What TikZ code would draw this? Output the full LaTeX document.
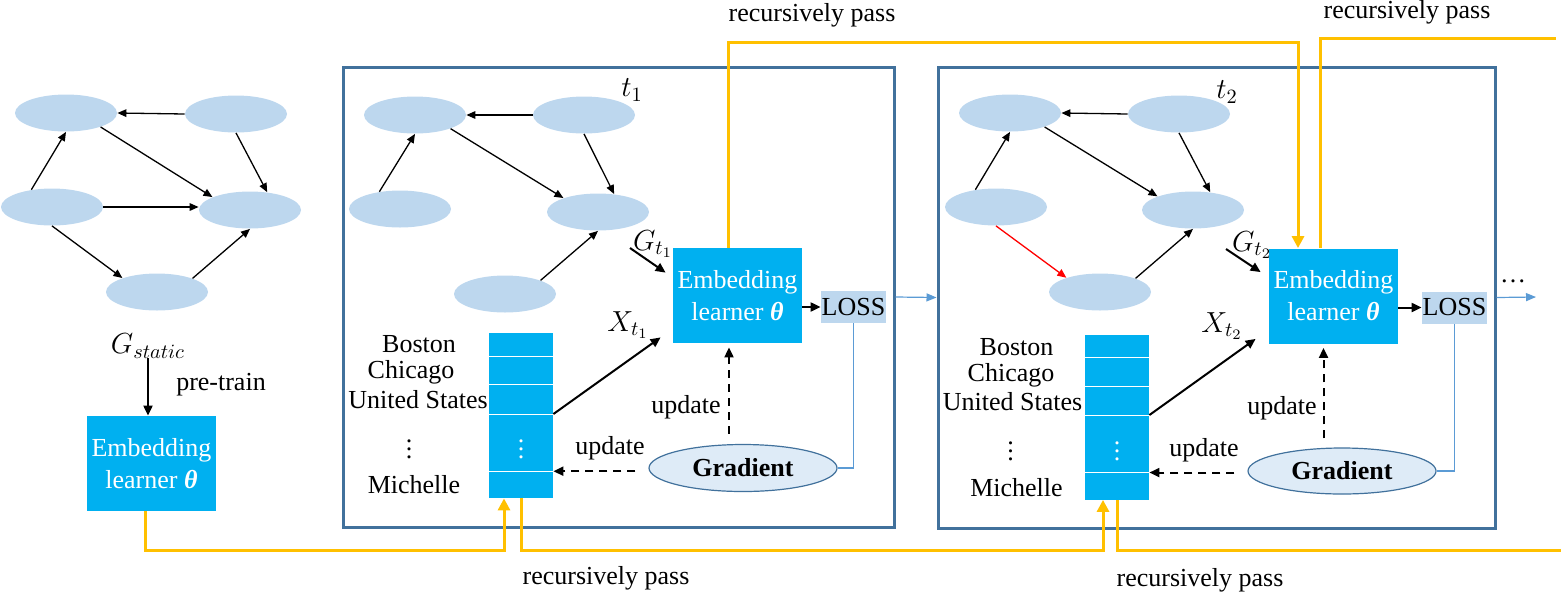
\RequirePackage{fix-cm}
\documentclass[tikz,border=0pt]{standalone}
\usepackage{fontspec}
\setmainfont{Liberation Serif}
\usetikzlibrary{shapes.geometric,arrows.meta,calc}
\definecolor{ellfill}{HTML}{BDD7EE}
\definecolor{embfill}{HTML}{00B0F0}
\definecolor{gradfill}{HTML}{DEEBF7}
\definecolor{gradline}{HTML}{41719C}
\definecolor{framec}{HTML}{41719C}
\definecolor{yel}{HTML}{FFC000}
\definecolor{thinblue}{HTML}{5B9BD5}
\begin{document}
\begin{tikzpicture}[x=0.5pt,y=-0.5pt,
  txt/.style={font=\fontsize{13}{15}\selectfont, inner sep=0pt},
  mlab/.style={font=\fontsize{14.5}{16}\selectfont, inner sep=0pt},
  ell/.style={ellipse, fill=ellfill, minimum width=51pt, minimum height=18.5pt, inner sep=0pt},
  gedge/.style={line width=0.65pt, -{Triangle[length=4.5pt,width=3.8pt]}},
  thickarr/.style={line width=1pt, -{Triangle[length=5pt,width=4.5pt]}},
  emb/.style={rectangle, fill=embfill, minimum width=64.5pt, minimum height=47.5pt, inner sep=0pt, text=white, align=center, font=\fontsize{13}{16}\selectfont},
  framebox/.style={rectangle, draw=framec, line width=1.5pt, inner sep=0pt},
  tabbox/.style={rectangle, fill=embfill, minimum width=32pt, minimum height=82.5pt, inner sep=0pt},
  lossbox/.style={rectangle, fill=ellfill, minimum width=32.5pt, minimum height=16pt, inner sep=0pt, font=\fontsize{13}{15}\selectfont},
  gradell/.style={ellipse, draw=gradline, fill=gradfill, line width=0.6pt, minimum width=94pt, minimum height=23.5pt, inner sep=0pt, font=\fontsize{13}{15}\selectfont\bfseries},
  ypath/.style={draw=yel, line width=1.5pt},
  yarrow/.style={draw=yel, line width=1.5pt, -{Triangle[length=6pt,width=6pt]}},
  dasharr/.style={line width=1pt, dash pattern=on 4pt off 3pt, -{Triangle[length=5pt,width=4.5pt]}},
  bluearr/.style={draw=thinblue, line width=0.6pt, -{Triangle[length=5pt,width=4pt]}},
  bluel/.style={draw=thinblue, line width=0.6pt}
]
\useasboundingbox (0,0) rectangle (1561,595);

% ---------- static graph ----------
\node[ell] (A) at (66,113) {};
\node[ell] (B) at (236,114) {};
\node[ell] (C) at (52,207) {};
\node[ell] (D) at (250,210) {};
\node[ell] (E) at (157,292) {};
\draw[gedge] (B.west) -- (A.east);
\draw[gedge] (C.140) -- (A.south);
\draw[gedge] (A.-22) -- (D.161);
\draw[gedge] (B.south) -- (D.46);
\draw[gedge] (C.east) -- (C.east -| D.west);
\draw[gedge] (C.south) -- (E.158);
\draw[gedge] (E.21) -- (D.south);

\node[mlab] (gstat) at (148,346) {$G_{static}$};
\node[txt] (pretrain) at (221,385) {pre-train};
\node[emb] (emb0) at (151.5,463.5) {Embedding\\learner {\bfseries\itshape θ}};
\draw[thickarr] (gstat.south) -- (gstat.south |- emb0.north);

% ---------- frames ----------
\node[framebox, minimum width=275.5pt, minimum height=230pt] (f1) at (618.5,297) {};
\node[framebox, minimum width=278.5pt, minimum height=230.5pt] (f2) at (1216.5,297.5) {};

% ---------- t1 ----------
\node[mlab] (lt1) at (632,90) {$t_1$};
\node[ell] (A1) at (415,115) {};
\node[ell] (B1) at (584,115) {};
\node[ell] (C1) at (400,209) {};
\node[ell] (D1) at (598,212) {};
\node[ell] (E1) at (505,294) {};
\draw[gedge] (B1.west) -- (A1.east);
\draw[gedge] (C1.140) -- (A1.south);
\draw[gedge] (A1.-21) -- (D1.158);
\draw[gedge] (B1.south) -- (D1.48);
\draw[gedge] (E1.21) -- (D1.south);

\node[emb] (emb1) at (737.5,295.5) {Embedding\\learner {\bfseries\itshape θ}};
\node[lossbox] (loss1) at (853.5,307) {LOSS};
\node[gradell] (grad1) at (743,468) {Gradient};
\node[tabbox] (tab1) at (521,415.5) {};
\foreach \f in {0.145,0.315,0.491,0.836}
  \draw[white,line width=0.5pt] ($(tab1.north west)!\f!(tab1.south west)$) -- ($(tab1.north east)!\f!(tab1.south east)$);
\coordinate (t1r3) at ($(tab1.north east)!0.491!(tab1.south east)$);
\coordinate (t1r4) at ($(tab1.north east)!0.836!(tab1.south east)$);
\node[txt,text=white] (vd1) at (521,443) {$\vdots$};

\node[txt] (bos1) at (419,344) {Boston};
\node[txt] (chi1) at (411,372) {Chicago};
\node[txt] (us1) at (418,400) {United States};
\node[txt] (vdl1) at (409,443) {$\vdots$};
\node[txt] (mic1) at (414,485) {Michelle};

\node[mlab] (Gt1) at (653,244) {$G_{t_1}$};
\coordinate (gs1) at (630,248);
\draw[thickarr] (gs1) -- ([shift={(-7,25)}]emb1.north west);
\node[mlab] (Xt1) at (628,325) {$X_{t_1}$};
\draw[thickarr] (t1r3) -- ([shift={(-12,-6)}]emb1.south west);
\draw[thickarr] (emb1.east |- loss1.west) -- (loss1.west);
\draw[bluel] (loss1.south) |- (grad1.east);
\draw[dasharr] ([shift={(-14,-10)}]grad1.north) -- ([shift={(-8.5,4)}]emb1.south);
\node[txt] (up1a) at (686,407) {update};
\coordinate (g1l) at ([xshift=-6.5pt]grad1.west);
\draw[dasharr] (g1l |- t1r4) -- (t1r4);
\node[txt] (up1b) at (610,448) {update};

% ---------- t2 ----------
\node[mlab] (lt2) at (1227,92) {$t_2$};
\node[ell] (A2) at (1010,113) {};
\node[ell] (B2) at (1179,114) {};
\node[ell] (C2) at (996,207) {};
\node[ell] (D2) at (1193,210) {};
\node[ell] (E2) at (1100,292) {};
\draw[gedge] (B2.west) -- (A2.east);
\draw[gedge] (C2.140) -- (A2.south);
\draw[gedge] (A2.-22) -- (D2.159);
\draw[gedge] (B2.south) -- (D2.46);
\draw[gedge,red] (C2.south) -- (E2.157);
\draw[gedge] (E2.21) -- (D2.south);

\node[emb] (emb2) at (1333.5,296) {Embedding\\learner {\bfseries\itshape θ}};
\node[lossbox] (loss2) at (1454.5,307.5) {LOSS};
\node[gradell, minimum height=23pt] (grad2) at (1342,471) {Gradient};
\node[tabbox] (tab2) at (1117,417) {};
\foreach \f in {0.14,0.317,0.488,0.835}
  \draw[white,line width=0.5pt] ($(tab2.north west)!\f!(tab2.south west)$) -- ($(tab2.north east)!\f!(tab2.south east)$);
\coordinate (t2r3) at ($(tab2.north east)!0.488!(tab2.south east)$);
\coordinate (t2r4) at ($(tab2.north east)!0.835!(tab2.south east)$);
\node[txt,text=white] (vd2) at (1117,445) {$\vdots$};

\node[txt] (bos2) at (1016.5,347) {Boston};
\node[txt] (chi2) at (1011,375) {Chicago};
\node[txt] (us2) at (1012.5,402) {United States};
\node[txt] (vdl2) at (1010.5,445) {$\vdots$};
\node[txt] (mic2) at (1016.5,488) {Michelle};

\node[mlab] (Gt2) at (1252,245) {$G_{t_2}$};
\coordinate (gs2) at (1226,249);
\draw[thickarr] (gs2) -- ([shift={(-8,24)}]emb2.north west);
\node[mlab] (Xt2) at (1222,326) {$X_{t_2}$};
\draw[thickarr] (t2r3) -- ([shift={(-13,-5)}]emb2.south west);
\draw[thickarr] (emb2.east |- loss2.west) -- (loss2.west);
\draw[bluel] (loss2.south) |- (grad2.east);
\draw[dasharr] ([shift={(-18.5,-9)}]grad2.north) -- ([shift={(-10,4)}]emb2.south);
\node[txt] (up2a) at (1282,408) {update};
\coordinate (g2l) at ([xshift=-6.5pt]grad2.west);
\draw[dasharr] (g2l |- t2r4) -- (t2r4);
\node[txt] (up2b) at (1204,450) {update};

% ---------- between / right ----------
\draw[bluearr] (f1.east) -- (f2.west);
\coordinate (rend) at (1536,297);
\draw[bluearr] (f2.east) -- (rend);
\node[txt] (dots) at (1513,281) {\ldots};

% ---------- yellow paths ----------
\coordinate (yb) at (0,550);
\coordinate (yt1) at (0,42);
\coordinate (yt2) at (0,38);
\coordinate (rbot) at (1561,550);
\coordinate (rtop) at (1556,38);
\draw[yarrow] ([xshift=-3.25pt]emb0.south) coordinate (s0) -- (s0 |- yb) -| ([xshift=-8.5pt]tab1.south);
\draw[yarrow] (tab1.south) -- (tab1.south |- yb) -| ([xshift=-7pt]tab2.south);
\draw[ypath] (tab2.south) -- (tab2.south |- yb) -- (rbot);
\draw[yarrow] ([xshift=-4.75pt]emb1.north) coordinate (s1) -- (s1 |- yt1) -| ([xshift=-17.75pt]emb2.north);
\draw[ypath] ([xshift=-6.75pt]emb2.north) coordinate (s2) -- (s2 |- yt2) -- (rtop);

\node[txt] (rp1) at (812,15) {recursively pass};
\node[txt] (rp2) at (1407,12) {recursively pass};
\node[txt] (rp3) at (606,578) {recursively pass};
\node[txt] (rp4) at (1200,580) {recursively pass};
\end{tikzpicture}
\end{document}
